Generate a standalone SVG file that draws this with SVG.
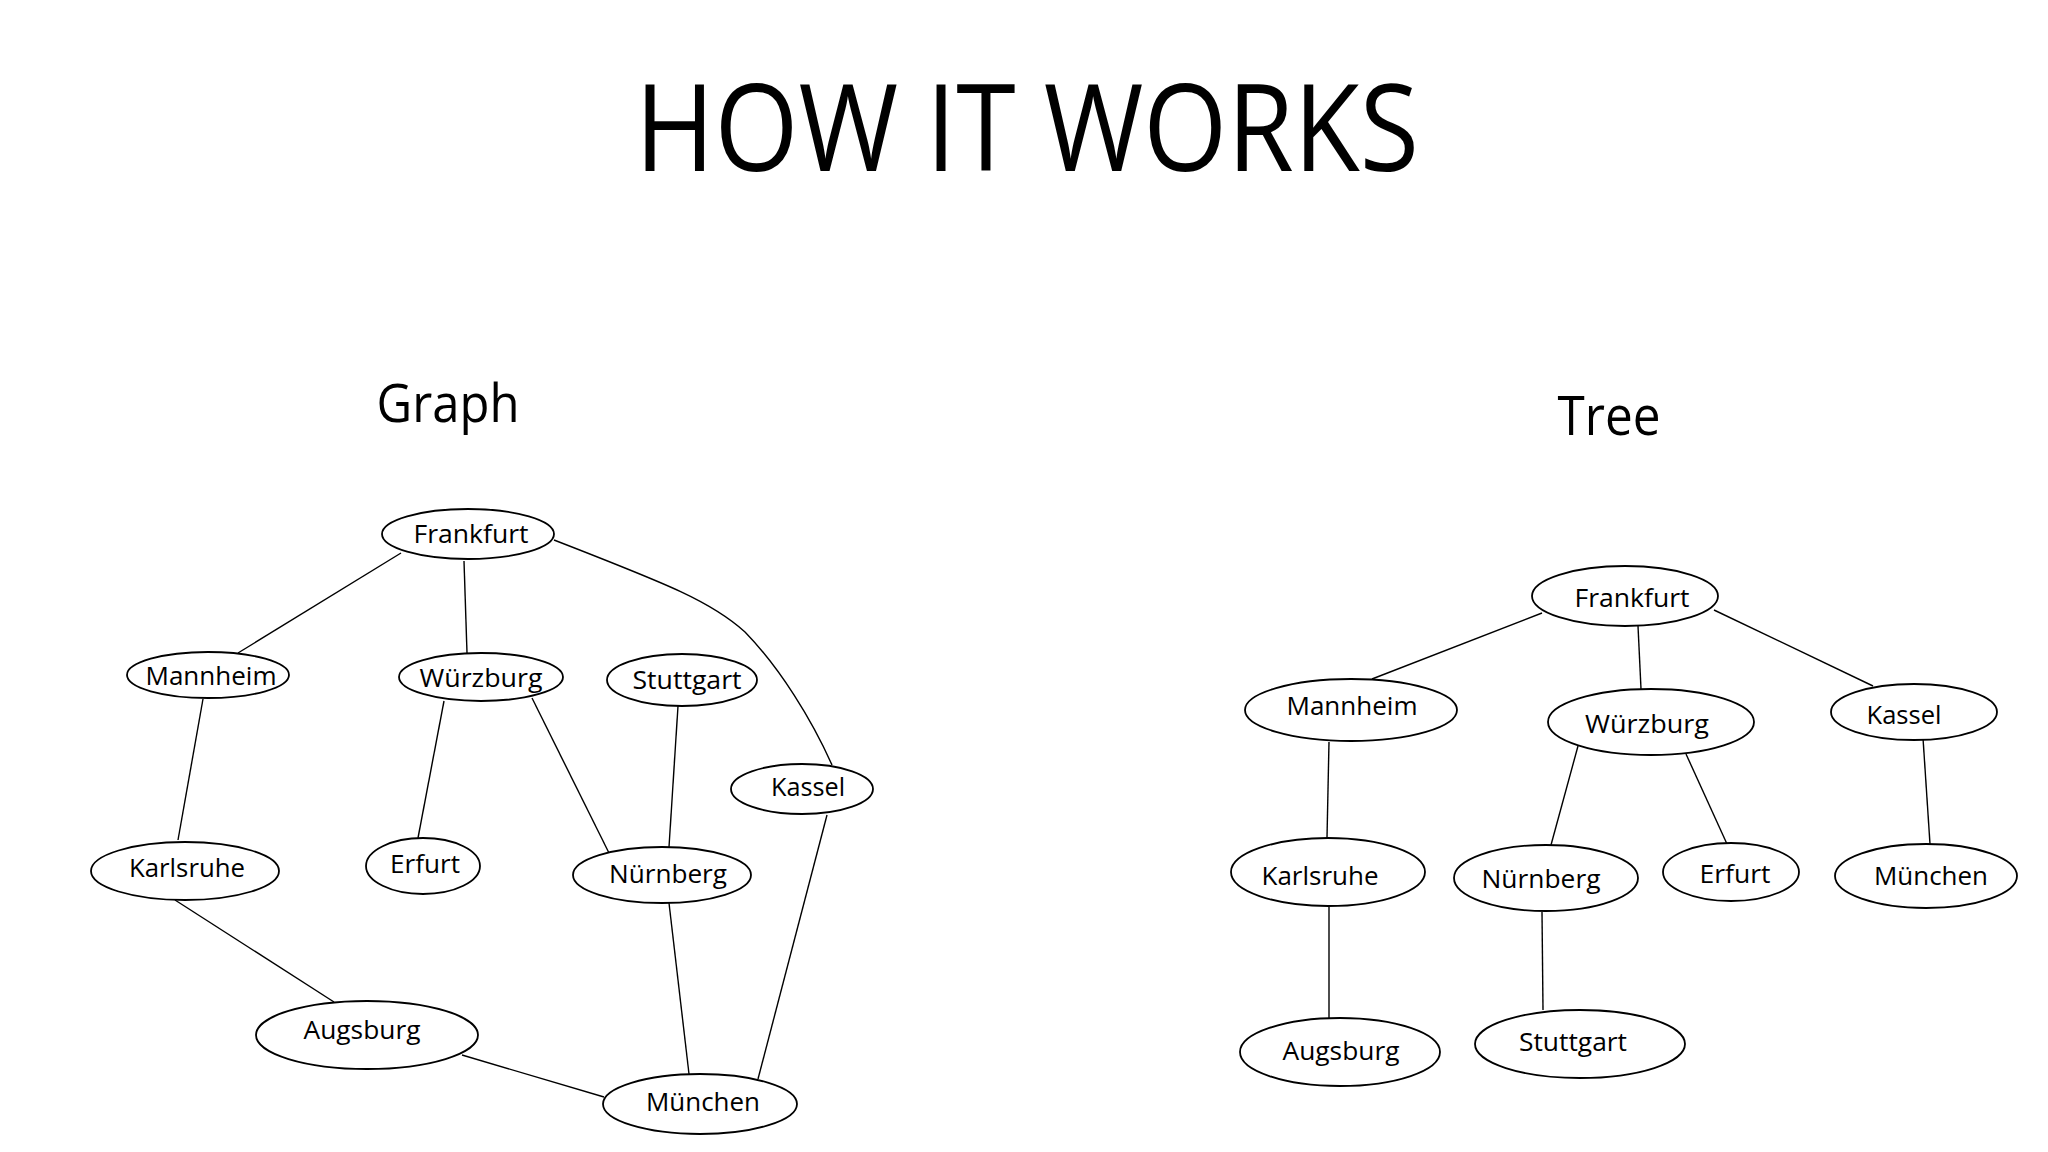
<svg xmlns="http://www.w3.org/2000/svg" width="2048" height="1152" viewBox="0 0 2048 1152">
<style>
.n{fill:#fff;stroke:#000;stroke-width:1.8}
.e{fill:none;stroke:#000;stroke-width:1.4}
.t{font-family:"Open Sans","Liberation Sans",sans-serif;font-size:26px;fill:#000;text-anchor:middle}
.h{font-family:"Open Sans","Liberation Sans",sans-serif;fill:#000;text-anchor:middle}
</style>
<rect width="2048" height="1152" fill="#fff"/>
<text class="h" x="1027" y="171" font-size="120" textLength="784" lengthAdjust="spacingAndGlyphs">HOW IT WORKS</text>
<text class="h" x="448" y="422" font-size="53" textLength="143" lengthAdjust="spacingAndGlyphs">Graph</text>
<text class="h" x="1609" y="435" font-size="55" textLength="103" lengthAdjust="spacingAndGlyphs">Tree</text>

<g id="graph-edges">
<line class="e" x1="401" y1="553" x2="238" y2="653"/>
<line class="e" x1="464" y1="561" x2="467" y2="653"/>
<path class="e" d="M554,540 C670,585 712,602 745,632 C780,668 812,720 832,765"/>
<line class="e" x1="203" y1="699" x2="178" y2="840"/>
<line class="e" x1="444" y1="701" x2="418" y2="838"/>
<line class="e" x1="532" y1="698" x2="609" y2="853"/>
<line class="e" x1="678" y1="706" x2="669" y2="847"/>
<line class="e" x1="827" y1="815" x2="758" y2="1079"/>
<line class="e" x1="175" y1="900" x2="334" y2="1002"/>
<line class="e" x1="669" y1="903" x2="689" y2="1074"/>
<line class="e" x1="462" y1="1055" x2="604" y2="1097"/>
</g>

<g id="g-frankfurt"><ellipse class="n" cx="468" cy="534" rx="86" ry="25"/><text class="t" x="471" y="543" textLength="115" lengthAdjust="spacingAndGlyphs">Frankfurt</text></g>
<g id="g-mannheim"><ellipse class="n" cx="208" cy="675" rx="81" ry="23"/><text class="t" x="211" y="685" textLength="131" lengthAdjust="spacingAndGlyphs">Mannheim</text></g>
<g id="g-wuerzburg"><ellipse class="n" cx="481" cy="677" rx="82" ry="24"/><text class="t" x="481" y="687" textLength="123" lengthAdjust="spacingAndGlyphs">Würzburg</text></g>
<g id="g-stuttgart"><ellipse class="n" cx="682" cy="680" rx="75" ry="26"/><text class="t" x="687" y="689" textLength="109" lengthAdjust="spacingAndGlyphs">Stuttgart</text></g>
<g id="g-kassel"><ellipse class="n" cx="802" cy="789" rx="71" ry="25"/><text class="t" x="808" y="796" textLength="74" lengthAdjust="spacingAndGlyphs">Kassel</text></g>
<g id="g-karlsruhe"><ellipse class="n" cx="185" cy="871" rx="94" ry="29"/><text class="t" x="187" y="877" textLength="116" lengthAdjust="spacingAndGlyphs">Karlsruhe</text></g>
<g id="g-erfurt"><ellipse class="n" cx="423" cy="866" rx="57" ry="28"/><text class="t" x="425" y="873" textLength="70" lengthAdjust="spacingAndGlyphs">Erfurt</text></g>
<g id="g-nuernberg"><ellipse class="n" cx="662" cy="875" rx="89" ry="28"/><text class="t" x="668" y="883" textLength="118" lengthAdjust="spacingAndGlyphs">Nürnberg</text></g>
<g id="g-augsburg"><ellipse class="n" cx="367" cy="1035" rx="111" ry="34"/><text class="t" x="362" y="1039" textLength="117" lengthAdjust="spacingAndGlyphs">Augsburg</text></g>
<g id="g-muenchen"><ellipse class="n" cx="700" cy="1104" rx="97" ry="30"/><text class="t" x="703" y="1111" textLength="114" lengthAdjust="spacingAndGlyphs">München</text></g>

<g id="tree-edges">
<line class="e" x1="1542" y1="613" x2="1372" y2="679"/>
<line class="e" x1="1638" y1="626" x2="1641" y2="689"/>
<line class="e" x1="1714" y1="610" x2="1873" y2="686"/>
<line class="e" x1="1329" y1="742" x2="1327" y2="838"/>
<line class="e" x1="1578" y1="746" x2="1551" y2="845"/>
<line class="e" x1="1686" y1="754" x2="1727" y2="844"/>
<line class="e" x1="1923" y1="738" x2="1930" y2="844"/>
<line class="e" x1="1329" y1="907" x2="1329" y2="1018"/>
<line class="e" x1="1542" y1="912" x2="1543" y2="1010"/>
</g>

<g id="t-frankfurt"><ellipse class="n" cx="1625" cy="596" rx="93" ry="30"/><text class="t" x="1632" y="607" textLength="115" lengthAdjust="spacingAndGlyphs">Frankfurt</text></g>
<g id="t-mannheim"><ellipse class="n" cx="1351" cy="710" rx="106" ry="31"/><text class="t" x="1352" y="715" textLength="131" lengthAdjust="spacingAndGlyphs">Mannheim</text></g>
<g id="t-wuerzburg"><ellipse class="n" cx="1651" cy="722" rx="103" ry="33"/><text class="t" x="1647" y="733" textLength="124" lengthAdjust="spacingAndGlyphs">Würzburg</text></g>
<g id="t-kassel"><ellipse class="n" cx="1914" cy="712" rx="83" ry="28"/><text class="t" x="1904" y="724" textLength="75" lengthAdjust="spacingAndGlyphs">Kassel</text></g>
<g id="t-karlsruhe"><ellipse class="n" cx="1328" cy="872" rx="97" ry="34"/><text class="t" x="1320" y="885" textLength="117" lengthAdjust="spacingAndGlyphs">Karlsruhe</text></g>
<g id="t-nuernberg"><ellipse class="n" cx="1546" cy="878" rx="92" ry="33"/><text class="t" x="1541" y="888" textLength="119" lengthAdjust="spacingAndGlyphs">Nürnberg</text></g>
<g id="t-erfurt"><ellipse class="n" cx="1731" cy="872" rx="68" ry="29"/><text class="t" x="1735" y="883" textLength="71" lengthAdjust="spacingAndGlyphs">Erfurt</text></g>
<g id="t-muenchen"><ellipse class="n" cx="1926" cy="876" rx="91" ry="32"/><text class="t" x="1931" y="885" textLength="114" lengthAdjust="spacingAndGlyphs">München</text></g>
<g id="t-augsburg"><ellipse class="n" cx="1340" cy="1052" rx="100" ry="34"/><text class="t" x="1341" y="1060" textLength="117" lengthAdjust="spacingAndGlyphs">Augsburg</text></g>
<g id="t-stuttgart"><ellipse class="n" cx="1580" cy="1044" rx="105" ry="34"/><text class="t" x="1573" y="1051" textLength="108" lengthAdjust="spacingAndGlyphs">Stuttgart</text></g>
</svg>
